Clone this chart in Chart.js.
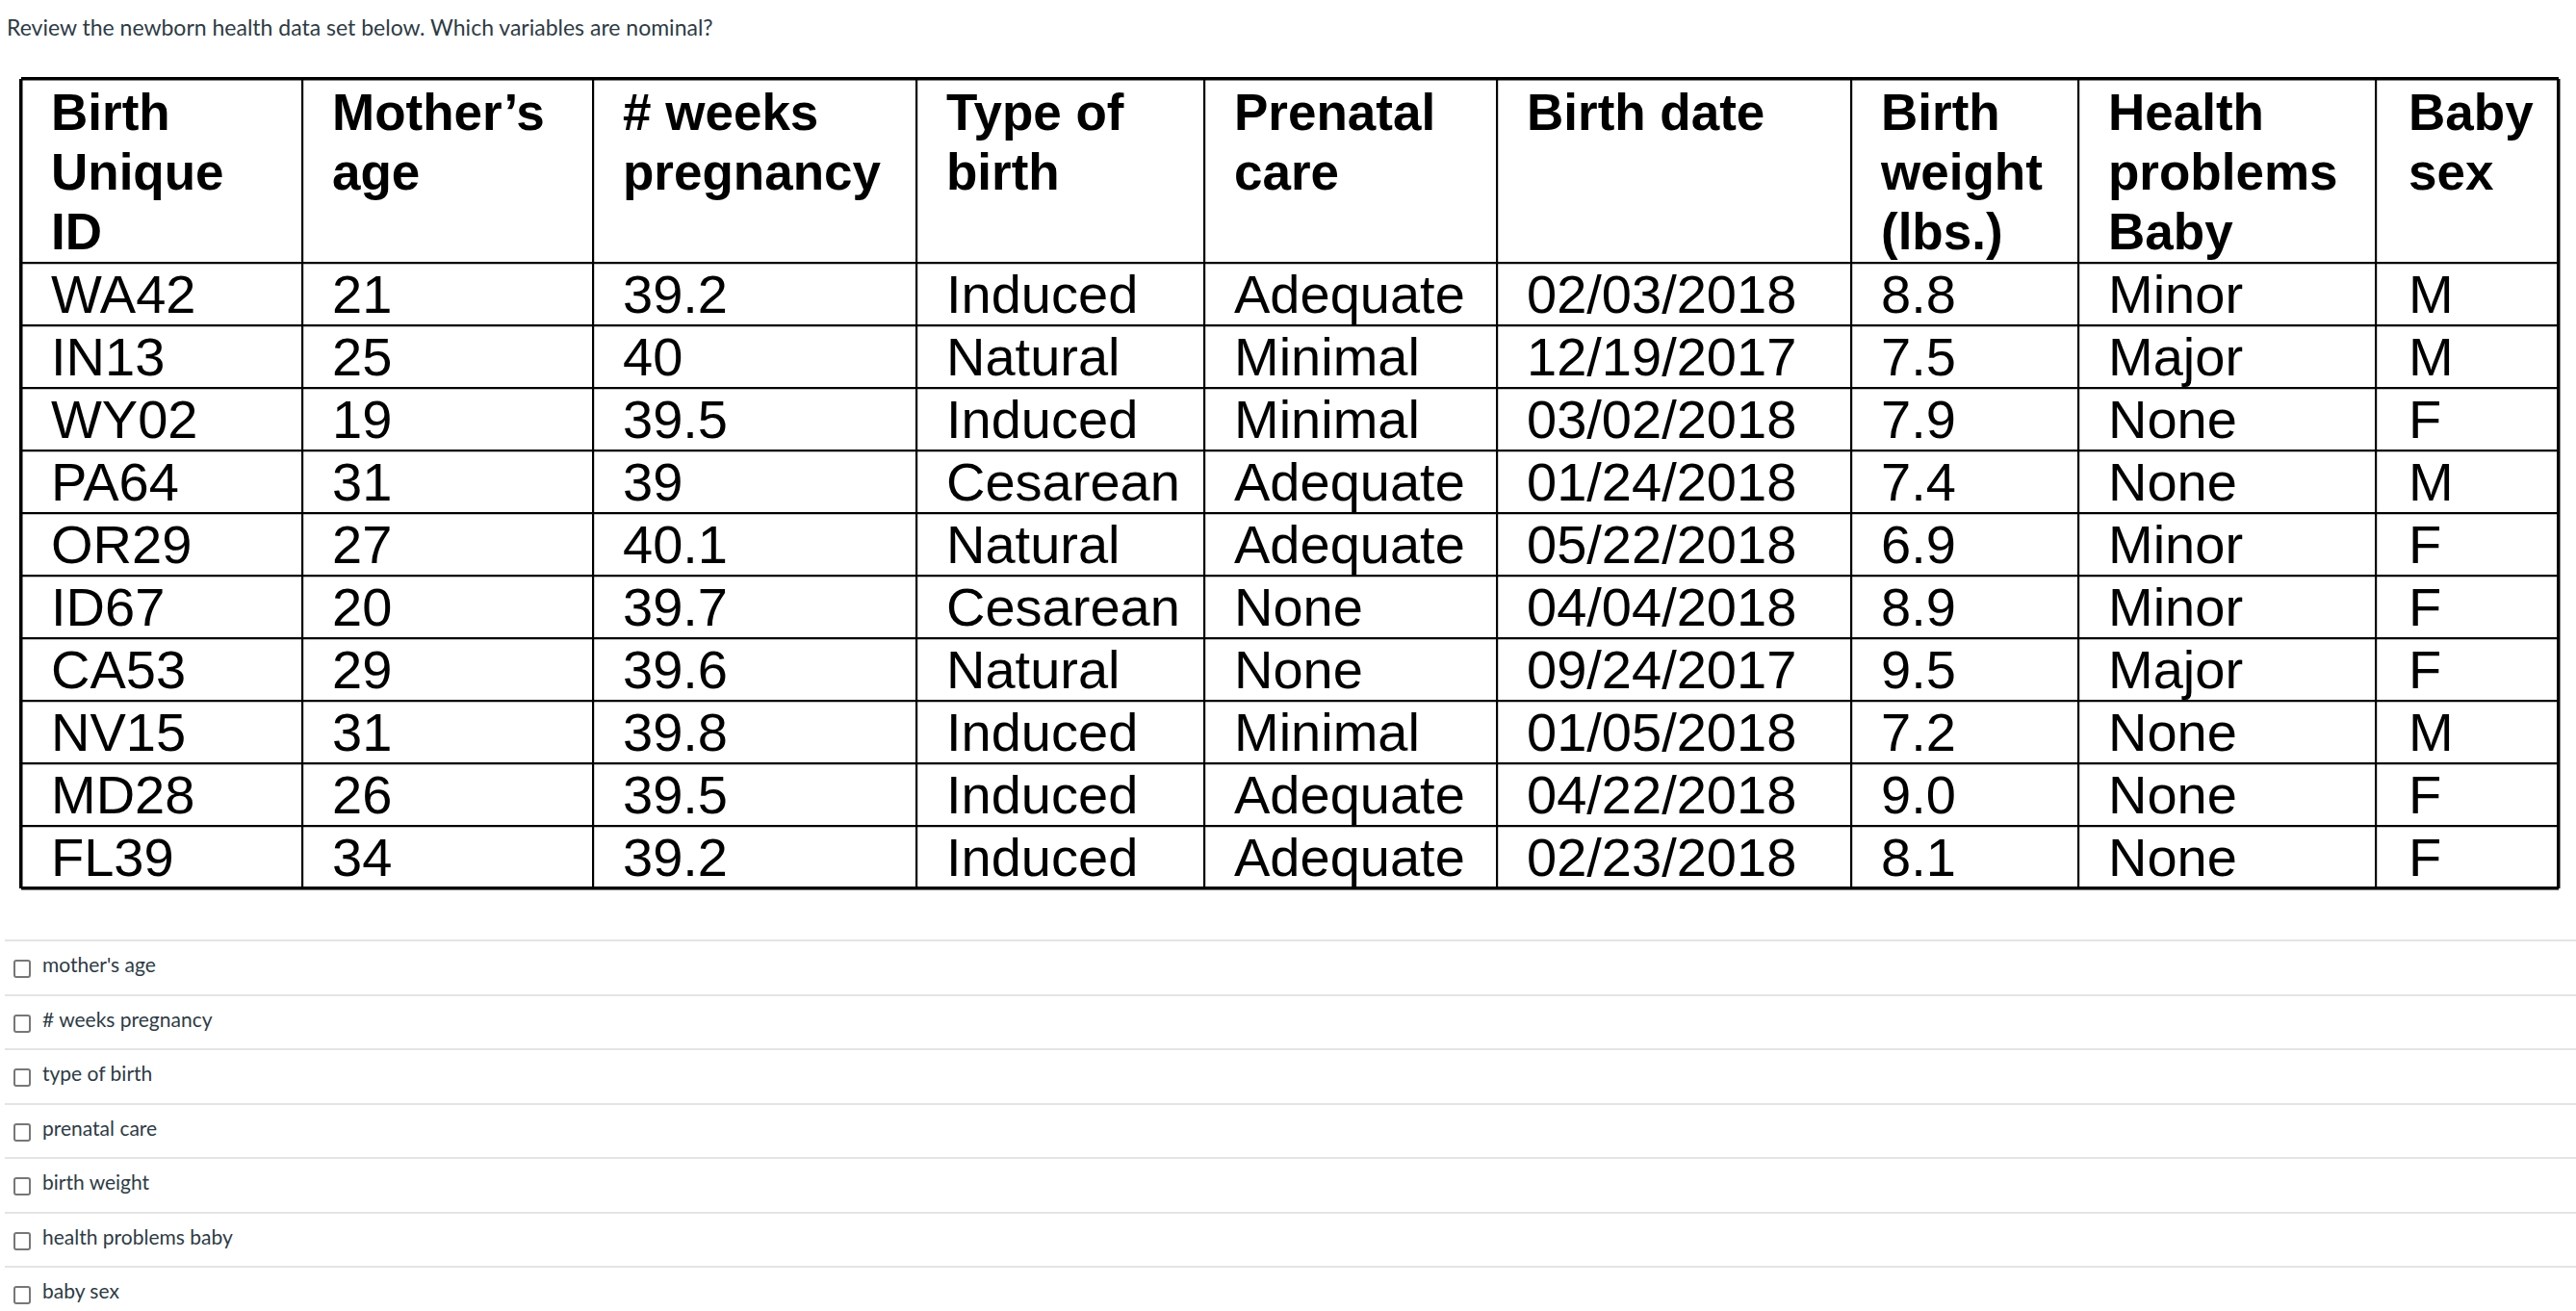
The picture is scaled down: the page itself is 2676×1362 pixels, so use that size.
<!DOCTYPE html>
<html><head><meta charset="utf-8">
<script src="https://cdn.jsdelivr.net/npm/chart.js@4"></script>
<style>
html,body{margin:0;padding:0;background:#fff;width:2676px;height:1362px;overflow:hidden;font-family:Lato,sans-serif;color:#2d3b45}
#title{position:absolute;left:7px;top:14px;font-size:23px;color:#2d3b45}
#wrap{position:absolute;left:18px;top:78px;width:2644px;height:849px}
.opt{position:absolute;left:5px;width:2671px;height:56px;border-top:2px solid #e4e4e4}
.opt .box{position:absolute;left:9px;top:19px;width:14px;height:15px;border:2px solid #777;border-radius:3px}
.opt .lbl{position:absolute;left:39px;top:11px;font-size:21px;color:#2d3b45}
</style></head><body>
<div id="title">Review the newborn health data set below. Which variables are nominal?</div>
<div id="wrap"><canvas id="c" width="2644" height="849" style="width:2644px;height:849px"></canvas></div>
<div id="opts"></div>
<script>
const headers = [["Birth","Unique","ID"],["Mother’s","age"],["# weeks","pregnancy"],["Type of","birth"],["Prenatal","care"],["Birth date"],["Birth","weight","(lbs.)"],["Health","problems","Baby"],["Baby","sex"]];
const ids = ["WA42","IN13","WY02","PA64","OR29","ID67","CA53","NV15","MD28","FL39"];
const motherAge = [21,25,19,31,27,20,29,31,26,34];
const weeks = ["39.2","40","39.5","39","40.1","39.7","39.6","39.8","39.5","39.2"];
const birthType = ["Induced","Natural","Induced","Cesarean","Natural","Cesarean","Natural","Induced","Induced","Induced"];
const prenatal = ["Adequate","Minimal","Minimal","Adequate","Adequate","None","None","Minimal","Adequate","Adequate"];
const birthDate = ["02/03/2018","12/19/2017","03/02/2018","01/24/2018","05/22/2018","04/04/2018","09/24/2017","01/05/2018","04/22/2018","02/23/2018"];
const birthWeight = [8.8,7.5,7.9,7.4,6.9,8.9,9.5,7.2,9.0,8.1];
const health = ["Minor","Major","None","None","Minor","Minor","Major","None","None","None"];
const babySex = ["M","M","F","M","F","F","F","M","F","F"];
const options = ["mother's age","# weeks pregnancy","type of birth","prenatal care","birth weight","health problems baby","baby sex"];

// layout (pixels inside table)
const colEdges = [0,292,594,930,1229,1533,1901,2137,2446,2636];
const headerH = 191, rowH = 65;
const rowEdges = [0, headerH]; for (let i=1;i<=ids.length;i++) rowEdges.push(headerH+i*rowH);
const colPad = [31,31,31,31,31,31,31,31,34];

const columns = [ids, motherAge.map(String), weeks, birthType, prenatal, birthDate, birthWeight.map(v=>v.toFixed(1)), health, babySex];

const o = document.getElementById('opts');
options.forEach((t,i)=>{
  const d=document.createElement('div'); d.className='opt'; d.style.top=(976+i*56.5)+'px';
  d.innerHTML='<div class="box"></div><div class="lbl"></div>'; d.querySelector('.lbl').textContent=t; o.appendChild(d);
});

const textPlugin = {
  id:'cells',
  afterDraw(chart){
    const ctx=chart.ctx, xs=chart.scales.x, ys=chart.scales.y;
    ctx.save(); ctx.fillStyle='#000'; ctx.textBaseline='alphabetic'; ctx.textAlign='left';
    ctx.font='bold 53px "Liberation Sans", Arial, sans-serif';
    headers.forEach((lines,c)=>{
      lines.forEach((ln,k)=>{
        ctx.fillText(ln, xs.getPixelForValue(colEdges[c]+colPad[c]), ys.getPixelForValue(53+k*62));
      });
    });
    ctx.font='56px "Liberation Sans", Arial, sans-serif';
    columns.forEach((col,c)=>{
      col.forEach((v,r)=>{
        ctx.fillText(v, xs.getPixelForValue(colEdges[c]+colPad[c]), ys.getPixelForValue(rowEdges[r+1]+52));
      });
    });
    ctx.restore();
  }
};

new Chart(document.getElementById('c'),{
  type:'scatter',
  data:{datasets:[{data:[]}]},
  options:{
    responsive:false, maintainAspectRatio:false, animation:false, devicePixelRatio:1,
    layout:{padding:4},
    plugins:{legend:{display:false},tooltip:{enabled:false}},
    scales:{
      x:{type:'linear',min:0,max:colEdges[colEdges.length-1],
        afterBuildTicks:s=>{s.ticks=colEdges.map(v=>({value:v}));},
        ticks:{display:false},border:{display:false},
        grid:{color:'#000',drawTicks:false,lineWidth:c=>(c.index===0||c.index===colEdges.length-1)?3.5:2.2}},
      y:{type:'linear',reverse:true,min:0,max:rowEdges[rowEdges.length-1],
        afterBuildTicks:s=>{s.ticks=rowEdges.map(v=>({value:v}));},
        ticks:{display:false},border:{display:false},
        grid:{color:'#000',drawTicks:false,lineWidth:c=>(c.index===0||c.index===rowEdges.length-1)?3.5:2.2}}
    }
  },
  plugins:[textPlugin]
});
</script>
</body></html>
